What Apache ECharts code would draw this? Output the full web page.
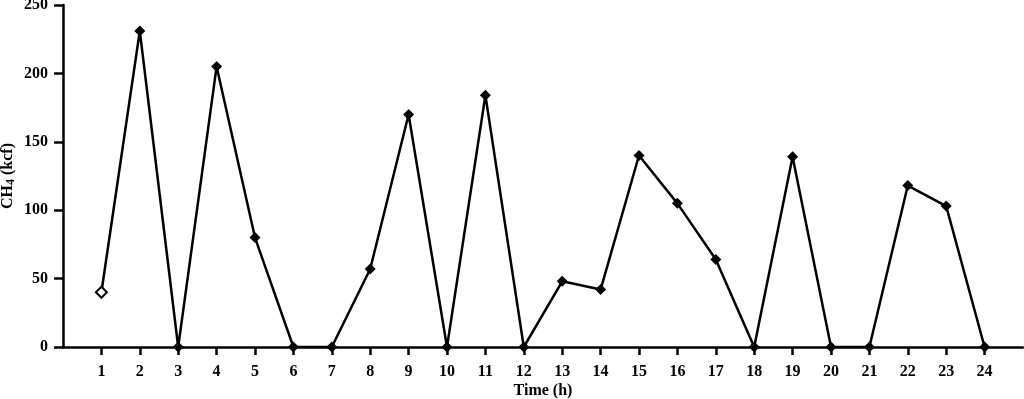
<!DOCTYPE html>
<html><head><meta charset="utf-8">
<script src="https://cdn.jsdelivr.net/npm/echarts@6/dist/echarts.min.js"></script>
<style>html,body{margin:0;padding:0;background:#fff}#c{width:1024px;height:399px}</style>
</head><body><div id="c"></div>
<script>
const hours = [1,2,3,4,5,6,7,8,9,10,11,12,13,14,15,16,17,18,19,20,21,22,23,24];
const ch4 = [40,231,0,205,80,0,0,57,170,0,184,0,48,42,140,105,64,0,139,0,0,118,103,0];
const yTicks = [0,50,100,150,200,250];

const font = 'Liberation Serif';
const chart = echarts.init(document.getElementById('c'));
const data = hours.map((h,i)=>{
  const p = {value:[h, ch4[i]]};
  if (i === 0) p.itemStyle = {color:'#fff', borderColor:'#000', borderWidth:2};
  return p;
});
chart.setOption({
  animation:false,
  grid:{left:63,right:1,top:5,bottom:52,outerBoundsMode:'none',containLabel:false},
  xAxis:{
    type:'value', min:0, max:25, interval:1,
    name:'Time (h)', nameLocation:'middle', nameGap:36, nameMoveOverlap:false,
    nameTextStyle:{fontFamily:font,fontWeight:'bold',fontSize:16,color:'#000'},
    axisLine:{lineStyle:{color:'#000',width:2.5}},
    axisTick:{show:true,length:8,lineStyle:{color:'#000',width:2.5},customValues:hours},
    axisLabel:{fontFamily:font,fontWeight:'bold',fontSize:16,color:'#000',margin:17,customValues:hours},
    splitLine:{show:false}
  },
  yAxis:{
    type:'value', min:0, max:250, interval:50,
    name:'{a|CH}{s|4}{a| (kcf)}', nameLocation:'middle', nameGap:46, nameRotate:90, nameMoveOverlap:false,
    nameTextStyle:{rich:{
      a:{fontFamily:font,fontWeight:'bold',fontSize:16,color:'#000'},
      s:{fontFamily:font,fontWeight:'bold',fontSize:12,color:'#000',verticalAlign:'bottom',padding:[7,0,0,0]}
    }},
    axisLine:{show:true,lineStyle:{color:'#000',width:2.5}},
    axisTick:{show:true,length:9,lineStyle:{color:'#000',width:2.5}},
    axisLabel:{fontFamily:font,fontWeight:'bold',fontSize:16,color:'#000',margin:15},
    splitLine:{show:false}
  },
  series:[{
    type:'line', data:data, symbol:'diamond', symbolSize:11,
    lineStyle:{color:'#000',width:2.5},
    itemStyle:{color:'#000'}
  }]
});
</script></body></html>
